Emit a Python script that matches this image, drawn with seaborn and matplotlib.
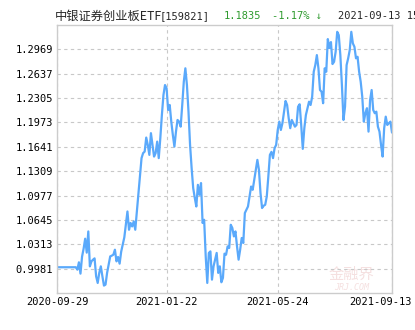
import numpy as np
import pandas as pd
import matplotlib
matplotlib.use('Agg')
import matplotlib.pyplot as plt
from matplotlib.transforms import ScaledTranslation
import seaborn as sns

# NAV trace (one value per trading day, roughly)
nav_flat = [1.0000] * 13
nav_oct_dec = [0.9967, 1.0067, 0.9913, 1.0144, 1.0253, 1.0389, 1.0199, 1.0488, 1.0012, 1.0080,
               1.0103, 1.0121, 0.9876, 0.9786, 0.9923, 1.0012, 0.9876, 0.9750, 0.9763, 0.9923,
               1.0035, 1.0148, 1.0158, 1.0171, 1.0239, 1.0080, 1.0140, 1.0049]
nav_dec_jan = [1.0212, 1.0307, 1.0407, 1.0579, 1.0760, 1.0511, 1.0603, 1.0556, 1.0624, 1.0511,
               1.0756, 1.0987, 1.1259, 1.1487, 1.1555, 1.1576, 1.1767, 1.1667, 1.1531, 1.1827,
               1.1667, 1.1508, 1.1555, 1.1712, 1.1487, 1.1759, 1.2075, 1.2347, 1.2483]
nav_jan_feb = [1.2439, 1.2143, 1.2211, 1.1984, 1.1803, 1.1644, 1.1848, 1.2007, 1.1984, 1.1916,
               1.2211, 1.2528, 1.2711, 1.2483, 1.2120, 1.1667, 1.1351, 1.1079, 1.0947, 1.0828,
               1.1123]
nav_mar_may = [1.0987, 1.1147, 1.0603, 1.0647, 1.0148, 0.9786, 1.0195, 1.0216, 0.9831, 1.0012,
               1.0103, 1.0195, 0.9923, 1.0012, 0.9795, 0.9855, 1.0185, 1.0171, 1.0284, 1.0263,
               1.0579, 1.0535, 1.0420, 1.0488, 1.0284, 1.0103, 1.0239, 1.0399, 1.0331, 1.0739,
               1.0783, 1.0828, 1.0964, 1.1100, 1.1055, 1.1191, 1.1327, 1.1463, 1.1327, 1.1011,
               1.0807, 1.0838, 1.0851, 1.0964, 1.1236, 1.1531,
               1.1572, 1.1487, 1.1623, 1.1667, 1.1871]
nav_may_sep = [1.1984, 1.1871, 1.1963, 1.2116, 1.2266, 1.2211, 1.2031, 1.1895, 1.2007, 1.1963,
               1.1916, 1.1939, 1.2188, 1.2221, 1.1939, 1.1613, 1.1895, 1.2075, 1.2167, 1.2256,
               1.2211, 1.2324, 1.2664, 1.2755, 1.2891, 1.2711, 1.2415, 1.2392, 1.2235, 1.2711,
               1.2664, 1.3109, 1.2987, 1.3068, 1.2769, 1.2800, 1.2936, 1.3208, 1.3163, 1.2891,
               1.2483, 1.2007, 1.2188, 1.2755, 1.2847, 1.2959, 1.3208, 1.3051, 1.3004, 1.2847,
               1.2868, 1.2664, 1.2528, 1.2324, 1.1984, 1.2099, 1.2167, 1.1848, 1.2279, 1.2415,
               1.2143, 1.2099, 1.2120, 1.1916, 1.1848, 1.1667, 1.1508, 1.1895, 1.2052, 1.1939,
               1.1963, 1.1984, 1.1835]

date_labels = ['2020-09-29', '2021-01-22', '2021-05-24', '2021-09-13']
date_idx = [0, 70, 141, 214]
ytick_vals = [0.9981, 1.0313, 1.0645, 1.0977, 1.1309, 1.1641, 1.1973, 1.2305, 1.2637, 1.2969]

fund_name = '中银证券创业板ETF'
fund_code = '[159821]'
last_nav = '1.1835'
last_chg = '-1.17% ↓'
last_time = '2021-09-13 15:00'

nav = nav_flat + nav_oct_dec + nav_dec_jan + nav_jan_feb + nav_mar_may + nav_may_sep
df = pd.DataFrame({'day': np.arange(len(nav)), 'nav': nav})

sns.set_style('white')
plt.rcParams['font.family'] = ['DejaVu Sans Mono', 'DejaVu Sans']

fig = plt.figure(figsize=(4.15, 3.3), dpi=100)
ax = fig.add_axes([57 / 415, 37 / 330, 335 / 415, 268 / 330])

sns.lineplot(data=df, x='day', y='nav', ax=ax, color='#5aa9fb', linewidth=1.6)

ax.set_xlim(0, len(nav) - 1)
ax.set_ylim(ytick_vals[0] - 0.0332, ytick_vals[-1] + 0.0332)
ax.set_yticks(ytick_vals)
ax.set_yticklabels([f'{v:.4f}' for v in ytick_vals])
ax.set_xticks(date_idx)
ax.set_xticklabels(date_labels)
ax.set_xlabel('')
ax.set_ylabel('')
ax.tick_params(length=0, labelsize=7.5, colors='black', pad=3)

# last date label is pulled left so it stays inside the image
last_lbl = ax.get_xticklabels()[-1]
last_lbl.set_transform(last_lbl.get_transform() + ScaledTranslation(-0.11, 0, fig.dpi_scale_trans))

ax.grid(True, color='#c8c8c8', linestyle=(0, (3, 3)), linewidth=0.8)
for s in ax.spines.values():
    s.set_color('#cccccc')
    s.set_linewidth(1.0)

# faint watermark
ax.text(0.88, 0.07, '金融界', transform=ax.transAxes, ha='center', va='center',
        fontsize=11, color='#f5e0e0', family=['Noto Sans CJK SC'], zorder=0)
ax.text(0.88, 0.02, 'JRJ.COM', transform=ax.transAxes, ha='center', va='center',
        fontsize=6, color='#f5e0e0', style='italic', zorder=0)

ty = 1 - 16 / 330
fig.text(55 / 415, ty, fund_name, ha='left', va='center', fontsize=8.8,
         family=['Noto Sans CJK SC', 'DejaVu Sans'])
fig.text(160 / 415, ty, fund_code, ha='left', va='center', fontsize=7.5)
fig.text(224 / 415, ty, last_nav, ha='left', va='center', fontsize=7.5, color='#2e9a2e')
fig.text(272 / 415, ty, last_chg, ha='left', va='center', fontsize=7.5, color='#2e9a2e')
fig.text(338 / 415, ty, last_time, ha='left', va='center', fontsize=7.5)

fig.savefig('out.png', dpi=100)
